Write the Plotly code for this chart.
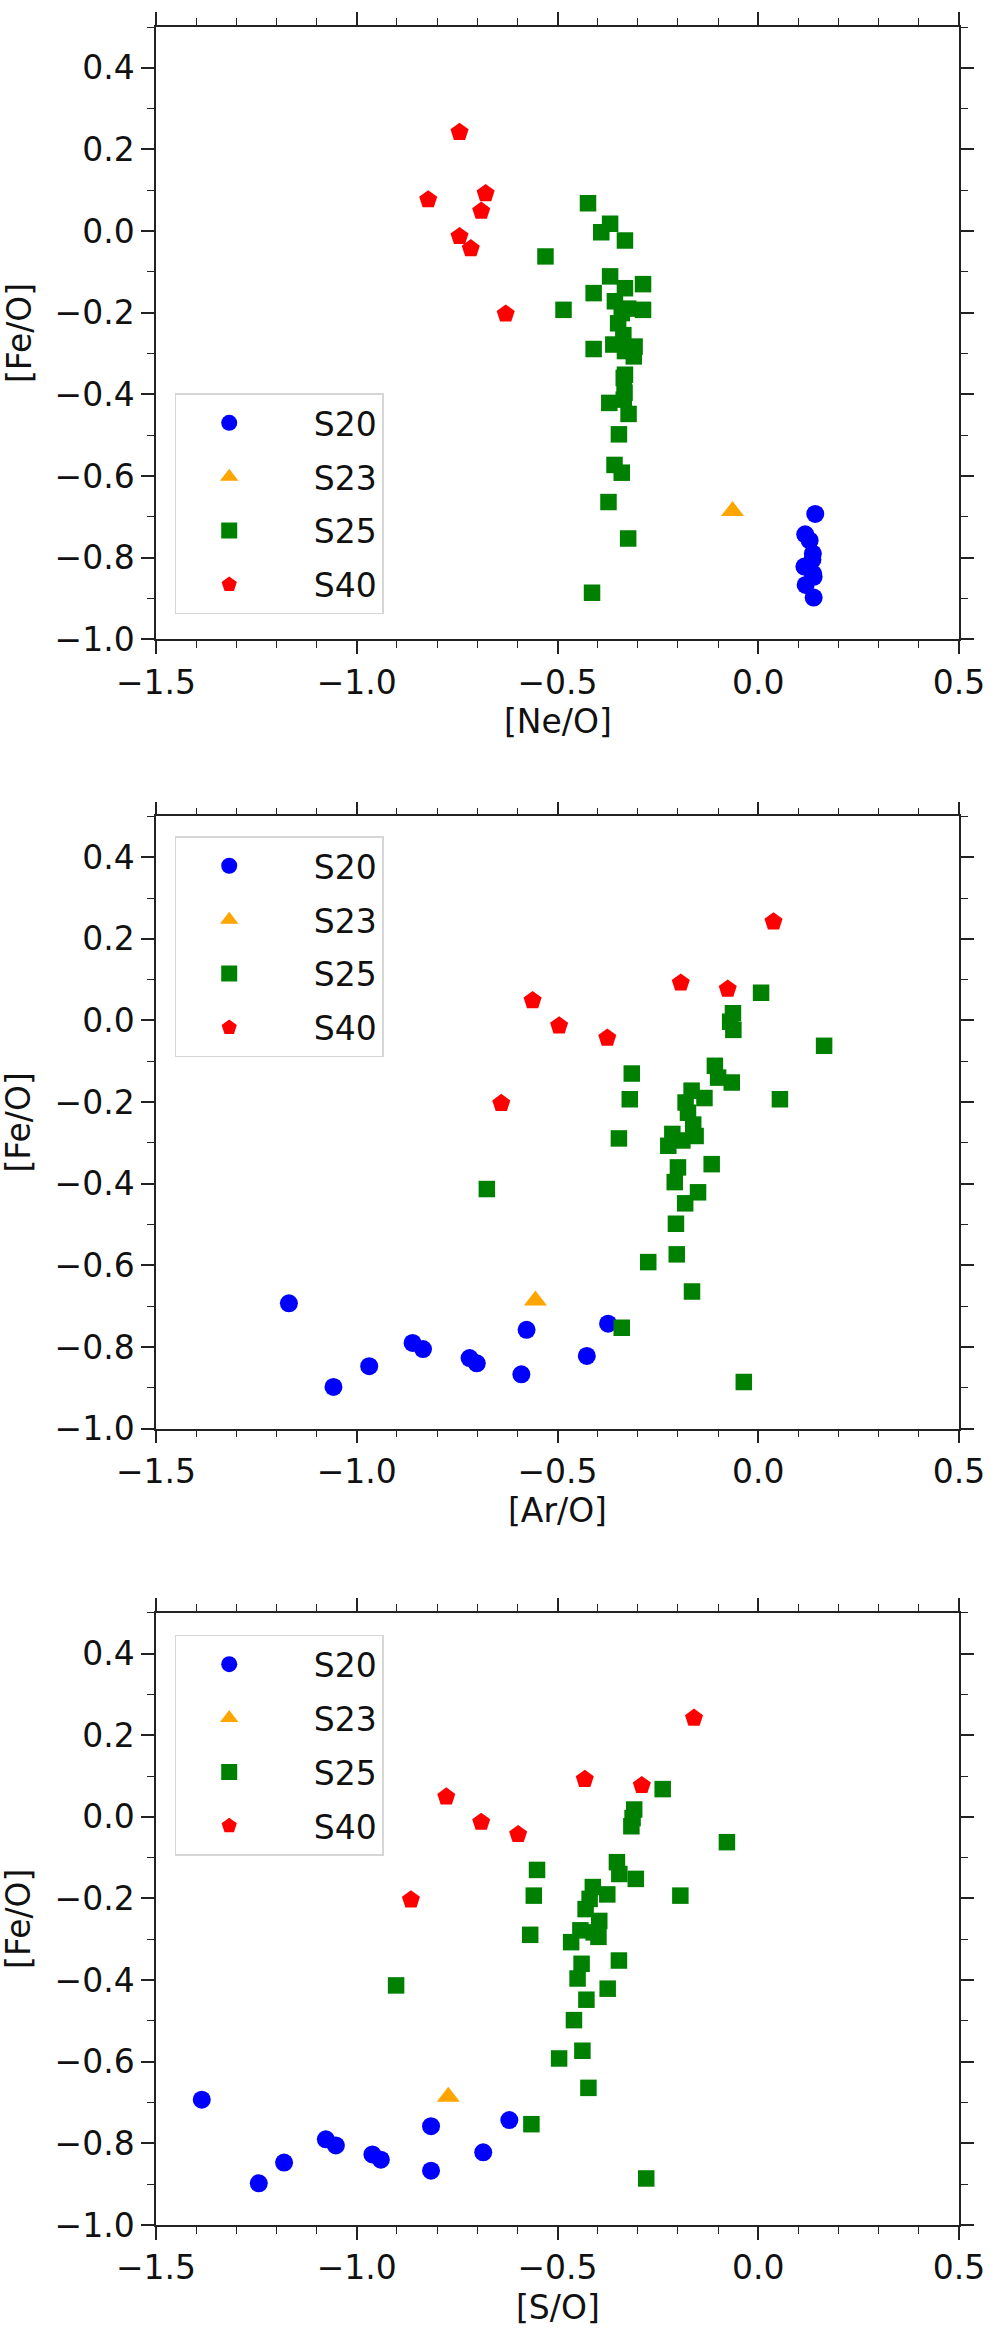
import plotly.graph_objects as go

# ---------------- data ----------------
FeO_S20 = [-0.693, -0.743, -0.758, -0.790, -0.805, -0.822, -0.827, -0.840, -0.847, -0.867, -0.898]
NeO_S20 = [0.142, 0.117, 0.128, 0.136, 0.135, 0.115, 0.128, 0.137, 0.138, 0.118, 0.138]
ArO_S20 = [-1.169, -0.374, -0.577, -0.861, -0.835, -0.427, -0.719, -0.701, -0.969, -0.590, -1.058]
SO_S20 = [-1.386, -0.620, -0.815, -1.077, -1.052, -0.685, -0.961, -0.940, -1.181, -0.815, -1.244]

FeO_S23 = [-0.686]
NeO_S23 = [-0.064]
ArO_S23 = [-0.555]
SO_S23 = [-0.772]

FeO_S25 = [0.068, 0.018, -0.003, -0.023, -0.062, -0.130, -0.111, -0.140, -0.152, -0.172, -0.193,
           -0.193, -0.190, -0.201, -0.226, -0.255, -0.289, -0.278, -0.294, -0.283, -0.307, -0.352,
           -0.360, -0.413, -0.396, -0.421, -0.448, -0.498, -0.592, -0.573, -0.664, -0.753, -0.886]
NeO_S25 = [-0.424, -0.369, -0.391, -0.332, -0.530, -0.287, -0.369, -0.332, -0.410, -0.357, -0.485,
           -0.287, -0.324, -0.340, -0.349, -0.336, -0.410, -0.361, -0.332, -0.308, -0.310, -0.332,
           -0.335, -0.335, -0.333, -0.371, -0.323, -0.347, -0.340, -0.358, -0.373, -0.324, -0.414]
ArO_S25 = [0.007, -0.063, -0.070, -0.062, 0.164, -0.315, -0.108, -0.100, -0.066, -0.166, -0.320,
           0.054, -0.134, -0.181, -0.175, -0.162, -0.347, -0.214, -0.189, -0.156, -0.224, -0.116,
           -0.200, -0.676, -0.208, -0.150, -0.182, -0.205, -0.274, -0.203, -0.165, -0.340, -0.036]
SO_S25 = [-0.238, -0.309, -0.313, -0.316, -0.078, -0.551, -0.352, -0.346, -0.305, -0.412, -0.559,
          -0.194, -0.376, -0.420, -0.430, -0.396, -0.568, -0.443, -0.398, -0.410, -0.466, -0.347,
          -0.440, -0.902, -0.450, -0.375, -0.428, -0.459, -0.496, -0.438, -0.423, -0.565, -0.279]

FeO_S40 = [0.242, 0.092, 0.077, 0.049, -0.013, -0.043, -0.203]
NeO_S40 = [-0.744, -0.679, -0.822, -0.690, -0.744, -0.716, -0.629]
ArO_S40 = [0.038, -0.193, -0.076, -0.562, -0.496, -0.376, -0.640]
SO_S40 = [-0.160, -0.432, -0.290, -0.777, -0.690, -0.598, -0.865]

series_names = ["S20", "S23", "S25", "S40"]
x_titles = ["[Ne/O]", "[Ar/O]", "[S/O]"]
y_title = "[Fe/O]"
x_ticks = [-1.5, -1.0, -0.5, 0.0, 0.5]
y_ticks = [0.4, 0.2, 0.0, -0.2, -0.4, -0.6, -0.8, -1.0]

panel_x = [
    [NeO_S20, NeO_S23, NeO_S25, NeO_S40],
    [ArO_S20, ArO_S23, ArO_S25, ArO_S40],
    [SO_S20, SO_S23, SO_S25, SO_S40],
]
feo = [FeO_S20, FeO_S23, FeO_S25, FeO_S40]

# ---------------- style ----------------
colors = ["#0000ff", "#ffa500", "#008000", "#ff0000"]
symbols = ["circle", "triangle-up", "square", "pentagon"]
sizes = [18, 20, 16.5, 19]
FONT = "DejaVu Sans"
FS = 33
PAD = "\u00a0\u00a0\u00a0"

W, H = 997, 2328
ml, mr, mt, mb = 156, 26, 17, 103
pw = W - ml - mr
ph = H - mt - mb
bottom_px = H - mb
panels_px = [(17, 632), (810, 1425), (1610, 2225)]
legend_px = [(175, 385), (175, 830), (175, 1632)]

fig = go.Figure()
for p in range(3):
    xa = "x" if p == 0 else f"x{p+1}"
    ya = "y" if p == 0 else f"y{p+1}"
    lg = "legend" if p == 0 else f"legend{p+1}"
    for s in range(4):
        fig.add_trace(go.Scatter(
            x=panel_x[p][s], y=feo[s], mode="markers", name=PAD + series_names[s],
            xaxis=xa, yaxis=ya, legend=lg, legendgroup=f"{lg}_{s}",
            marker=dict(color=colors[s], symbol=symbols[s], size=sizes[s], line=dict(width=0)),
        ))

axis_common = dict(
    showline=True, linecolor="#222222", linewidth=1.5, mirror="allticks",
    ticks="outside", ticklen=13, tickwidth=1.5, tickcolor="#222222",
    showgrid=False, zeroline=False,
    tickfont=dict(family=FONT, size=FS, color="#111111"),
    minor=dict(ticks="outside", ticklen=7, tickwidth=1.2, tickcolor="#222222", dtick=0.1, showgrid=False),
)

layout = dict(
    width=W, height=H,
    margin=dict(l=ml, r=mr, t=mt, b=mb, pad=0),
    paper_bgcolor="white", plot_bgcolor="white",
    font=dict(family=FONT, size=FS, color="#111111"),
)

annotations = []
for p in range(3):
    top, bot = panels_px[p]
    d0 = (bottom_px - bot) / ph
    d1 = (bottom_px - top) / ph
    xk = "xaxis" if p == 0 else f"xaxis{p+1}"
    yk = "yaxis" if p == 0 else f"yaxis{p+1}"
    ya = "y" if p == 0 else f"y{p+1}"
    xa = "x" if p == 0 else f"x{p+1}"
    layout[xk] = dict(axis_common, range=[-1.5, 0.5], tickvals=x_ticks, tickformat=".1f",
                      anchor=ya, domain=[0, 1])
    layout[yk] = dict(axis_common, range=[-1.0, 0.5], tickvals=y_ticks, tickformat=".1f",
                      anchor=xa, domain=[d0, d1])
    # axis titles
    annotations.append(dict(text=x_titles[p], xref=f"{xa} domain", yref=f"{ya} domain",
                            x=0.5, y=0, xanchor="center", yanchor="middle", yshift=-82,
                            showarrow=False, font=dict(family=FONT, size=FS, color="#111111")))
    annotations.append(dict(text=y_title, xref=f"{xa} domain", yref=f"{ya} domain",
                            x=0, y=0.5, xanchor="center", yanchor="middle", xshift=-137,
                            textangle=-90, showarrow=False,
                            font=dict(family=FONT, size=FS, color="#111111")))
    lk = "legend" if p == 0 else f"legend{p+1}"
    lx, ly = legend_px[p]
    layout[lk] = dict(
        x=(lx - ml) / pw, y=(bottom_px - ly) / ph, xanchor="left", yanchor="top",
        bgcolor="rgba(255,255,255,0.8)", bordercolor="#d6d6d6", borderwidth=1.5,
        font=dict(family=FONT, size=FS, color="#111111"),
        traceorder="grouped", tracegroupgap=8, itemwidth=96,
    )

layout["annotations"] = annotations
fig.update_layout(**layout)
fig.write_html("out.html")
